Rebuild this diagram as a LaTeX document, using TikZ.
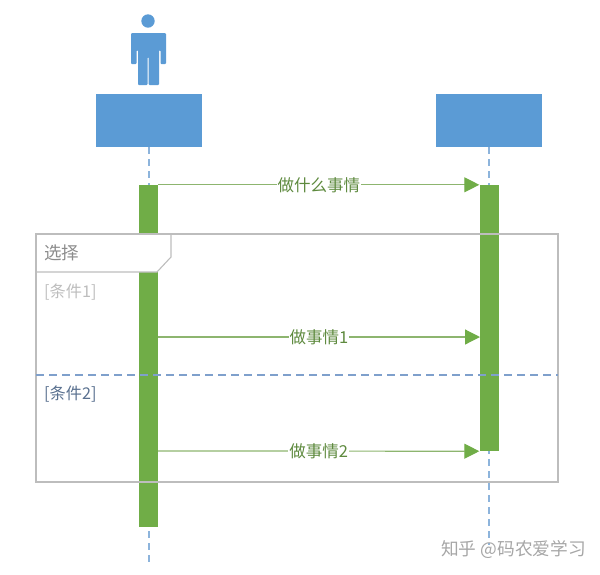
\documentclass[tikz,border=0pt]{standalone}
\usepackage{fontspec}
\setmainfont{Noto Sans CJK SC}
\usetikzlibrary{arrows.meta}
\definecolor{boxblue}{HTML}{5B9BD5}
\definecolor{lifeblue}{HTML}{8DB4DC}
\definecolor{barred}{HTML}{70AD47}
\definecolor{msgline}{HTML}{8DB56F}
\definecolor{msgtext}{HTML}{5E8A3E}
\definecolor{framegray}{HTML}{BDBDBD}
\definecolor{dividerblue}{HTML}{7FA0CC}
\tikzset{
	actorbox/.style={fill=boxblue, inner sep=0pt, minimum width=106pt, minimum height=53pt},
	lifeline/.style={lifeblue, line width=1.2pt, dash pattern=on 7pt off 5pt},
	activebar/.style={fill=barred, inner sep=0pt, minimum width=19pt},
	message/.style={msgline, line width=1.2pt, -{Triangle[length=15pt,width=15pt,fill=barred,color=barred]}},
	msglabel/.style={fill=white, text=msgtext, font=\fontsize{16.5pt}{17pt}\selectfont, inner sep=1pt},
	condlabel/.style={anchor=west, inner sep=0pt, font=\fontsize{16.2pt}{17pt}\selectfont},
}
\begin{document}
\begin{tikzpicture}[x=1pt, y=-1pt]
	\useasboundingbox (0,0) rectangle (600,574);
	% person
	\fill[boxblue] (148,21) circle[radius=6.7pt];
	\fill[boxblue, rounded corners=1pt] (131,64) -- (131,33) -- (166,33) -- (166,64) -- (160.5,64) -- (160.5,50) -- (159,50)
		-- (159,85) -- (148.7,85) -- (148.7,57) -- (147.5,57) -- (147.5,85) -- (138,85) -- (138,50) -- (136.7,50) -- (136.7,64) -- cycle;
	% actors
	\node[actorbox] (leftbox) at (149,120.5) {};
	\node[actorbox] (rightbox) at (489,120.5) {};
	\coordinate (leftend) at (149,566);
	\coordinate (rightend) at (489,545);
	\draw[lifeline] (leftbox.south) -- (leftend);
	\draw[lifeline] (rightbox.south) -- (rightend);
	% activation bars
	\node[activebar, minimum height=342pt] (leftbar) at (148.5,356) {};
	\node[activebar, minimum height=266pt] (rightbar) at (489,318) {};
	% frame
	\fill[white] (36,234) -- (171,234) -- (171,257) -- (157,272) -- (36,272) -- cycle;
	\draw[framegray, line width=1.1pt] (36,234) rectangle (558,482);
	\draw[framegray, line width=1.1pt] (171,234) -- (171,257) -- (157,272) -- (36,272);
	\node[condlabel, text=gray!90, font=\fontsize{17.5pt}{18pt}\selectfont] (choice) at (44,253) {选择};
	\node[condlabel, text=framegray] (cond1) at (44,292) {[条件1]};
	\coordinate (divleft) at (36,375);
	\coordinate (divright) at (558,375);
	\draw[dividerblue, line width=1.1pt, dash pattern=on 8pt off 5pt] (divleft) -- (divright);
	\node[condlabel, text=dividerblue!70!black] (cond2) at (44,394) {[条件2]};
	% messages
	\coordinate (msgonefrom) at (158,337);
	\coordinate (msgoneto) at (480,337);
	\coordinate (msgtwofrom) at (158,451);
	\draw[message] (leftbar.north east) -- node[msglabel] (dowhat) {做什么事情} (rightbar.north west);
	\draw[message] (msgonefrom) -- node[msglabel] (doone) {做事情1} (msgoneto);
	\draw[message] (msgtwofrom) -- node[msglabel] (dotwo) {做事情2} (rightbar.south west);
	% watermark
	\node[anchor=west, inner sep=0pt, text=gray!70, font=\fontsize{17.7pt}{18pt}\selectfont] (mark) at (441,550) {知乎 @码农爱学习};
\end{tikzpicture}
\end{document}
